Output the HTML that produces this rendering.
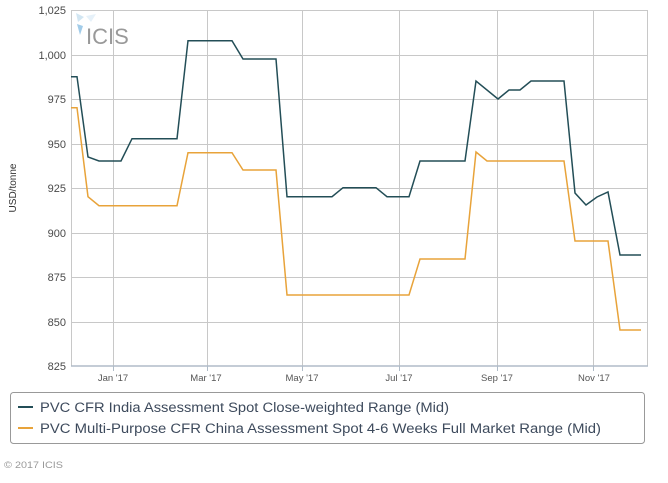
<!DOCTYPE html>
<html><head><meta charset="utf-8"><style>
body{margin:0;background:#fff;width:668px;height:478px;overflow:hidden;font-family:"Liberation Sans",sans-serif}
</style></head><body>
<svg width="668" height="478" xmlns="http://www.w3.org/2000/svg" font-family="Liberation Sans, sans-serif">
<g stroke="#c8c8c8" stroke-width="1">
<line x1="71" y1="10.5" x2="647" y2="10.5"/>
<line x1="71" y1="55.5" x2="647" y2="55.5"/>
<line x1="71" y1="99.5" x2="647" y2="99.5"/>
<line x1="71" y1="144.5" x2="647" y2="144.5"/>
<line x1="71" y1="188.5" x2="647" y2="188.5"/>
<line x1="71" y1="233.5" x2="647" y2="233.5"/>
<line x1="71" y1="277.5" x2="647" y2="277.5"/>
<line x1="71" y1="322.5" x2="647" y2="322.5"/>
<line x1="71.5" y1="10" x2="71.5" y2="366"/>
<line x1="113.5" y1="10" x2="113.5" y2="366"/>
<line x1="207.5" y1="10" x2="207.5" y2="366"/>
<line x1="302.5" y1="10" x2="302.5" y2="366"/>
<line x1="399.5" y1="10" x2="399.5" y2="366"/>
<line x1="497.5" y1="10" x2="497.5" y2="366"/>
<line x1="593.5" y1="10" x2="593.5" y2="366"/>
<line x1="647.5" y1="10" x2="647.5" y2="366"/>
</g>
<line x1="71" y1="366" x2="648" y2="366" stroke="#b0bcc8" stroke-width="1.5"/>
<g stroke="#b0bcc8"><line x1="113.5" y1="366" x2="113.5" y2="371"/><line x1="207.5" y1="366" x2="207.5" y2="371"/><line x1="302.5" y1="366" x2="302.5" y2="371"/><line x1="399.5" y1="366" x2="399.5" y2="371"/><line x1="497.5" y1="366" x2="497.5" y2="371"/><line x1="593.5" y1="366" x2="593.5" y2="371"/></g>
<g fill="#4a4a4a" font-size="11" text-anchor="end">
<text x="66" y="14">1,025</text><text x="66" y="59">1,000</text><text x="66" y="103">975</text><text x="66" y="148">950</text><text x="66" y="192">925</text><text x="66" y="237">900</text><text x="66" y="281">875</text><text x="66" y="326">850</text><text x="66" y="370">825</text>
</g>
<g fill="#555" font-size="9.5" text-anchor="middle">
<text x="113" y="381">Jan '17</text><text x="206" y="381">Mar '17</text><text x="302" y="381">May '17</text><text x="399" y="381">Jul '17</text><text x="497" y="381">Sep '17</text><text x="594" y="381">Nov '17</text>
</g>
<text transform="translate(16,188) rotate(-90)" text-anchor="middle" font-size="10" fill="#333">USD/tonne</text>
<g opacity="0.8"><path d="M76 13 l8 4 -6 5z" fill="#c8e0f0"/><path d="M86 16 l10 -2 -5 8z" fill="#e0eef8"/><path d="M77 24 l6 2 -3 9z" fill="#8cc0e4"/></g>
<text x="86" y="44" font-size="22" fill="#999">ICIS</text>
<polyline fill="none" stroke="#e8a33a" stroke-width="1.5" points="71,107.7 77,107.7 88,196.7 99,205.7 177,205.7 188,152.7 232,152.7 243,170 276,170 287,295 409,295 420,259 465,259 476,152 487,161 564,161 575,241 608,241 620,330 641,330"/>
<polyline fill="none" stroke="#234e57" stroke-width="1.5" points="71,76.7 77,76.7 88,157 99,161 121,161 132,138.7 177,138.7 188,40.7 232,40.7 243,59 276,59 287,196.7 332,196.7 343,187.7 376,187.7 387,196.7 409,196.7 420,161 465,161 476,81 498,99 509,90 520,90 531,81 564,81 575,193 586,205 597,197 608,192 620,255 641,255"/>
<rect x="10.5" y="392.5" width="634" height="51" rx="3" fill="#fff" stroke="#999"/>
<line x1="18" y1="407" x2="33" y2="407" stroke="#234e57" stroke-width="2"/>
<line x1="18" y1="428" x2="33" y2="428" stroke="#e8a33a" stroke-width="2"/>
<g font-size="13.5" fill="#3d4a5c"><text x="40" y="412" textLength="409" lengthAdjust="spacingAndGlyphs">PVC CFR India Assessment Spot Close-weighted Range (Mid)</text><text x="40" y="433" textLength="561" lengthAdjust="spacingAndGlyphs">PVC Multi-Purpose CFR China Assessment Spot 4-6 Weeks Full Market Range (Mid)</text></g>
<text x="4" y="468" font-size="9" fill="#999" textLength="59" lengthAdjust="spacingAndGlyphs">© 2017 ICIS</text>
</svg>
</body></html>
